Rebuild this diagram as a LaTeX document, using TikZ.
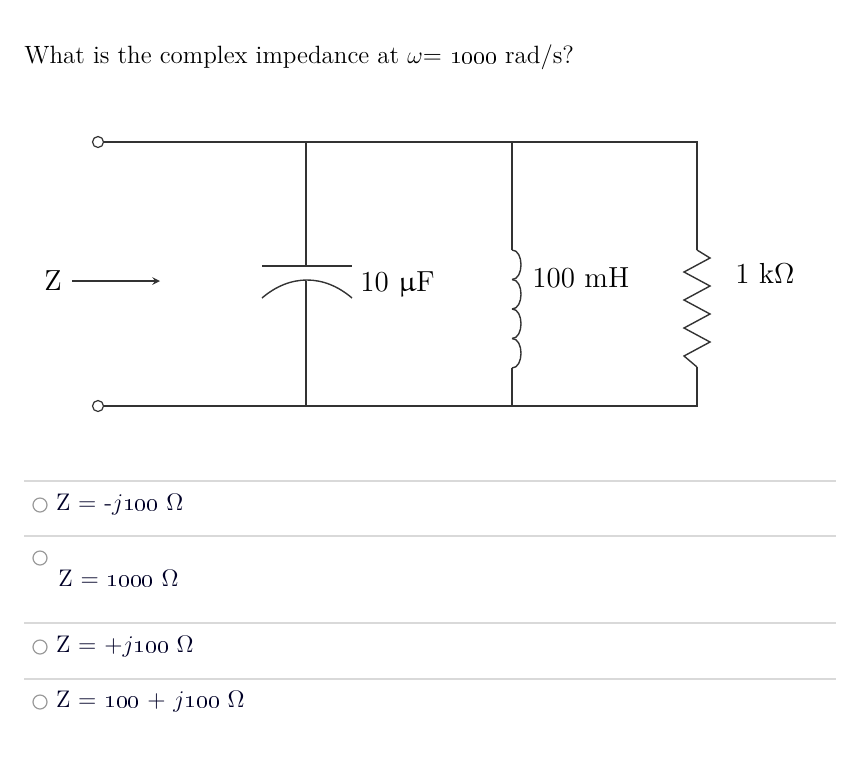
\documentclass[tikz,border=0pt]{standalone}
\usepackage{tikz}
\usetikzlibrary{positioning}
\usepackage{xcolor}
\usepackage{upgreek}

\tikzset{
  wire/.style={line width=0.7pt, black!80},
  term/.style={circle, draw=black!80, line width=0.6pt, fill=white, minimum size=5.5pt, inner sep=0pt},
  lbl/.style={font=\fontsize{14.5}{16}\selectfont, inner sep=0pt},
  sep/.style={gray!30, line width=0.6pt},
  radio/.style={circle, draw=gray!80, line width=0.6pt, minimum size=7pt, inner sep=0pt},
  answer/.style={font=\fontsize{12}{14}\selectfont, anchor=west, inner sep=0pt, text=black!85!blue}
}

\begin{document}
\begin{tikzpicture}[x=0.5pt, y=-0.5pt]
\useasboundingbox (0,0) rectangle (862,757);

% question
\node[anchor=west, inner sep=0pt, font=\fontsize{12.5}{15}\selectfont] (q) at (24,57)
{What is the complex impedance at $\omega$= \oldstylenums{1000} rad/s?};

% circuit
{
\node[term] (tA) at (98,142) {};
\node[term] (tB) at (98,406) {};
\coordinate (cT) at (306,142);
\coordinate (cB) at (306,406);
\coordinate (lT) at (512,142);
\coordinate (lB) at (512,406);
\coordinate (rT) at (697,142);
\coordinate (rB) at (697,406);

\draw[wire] (tA) -- (rT) -- (697,250);
\draw[wire] (697,367) -- (rB) -- (tB);
\draw[wire] (cT) -- (306,266);
\draw[wire] (306,281) -- (cB);
\draw[wire] (lT) -- (512,250);
\draw[wire] (512,368) -- (lB);

% capacitor
\draw[wire] (262,266) -- (352,266);
\draw[wire] (262,298) .. controls (290,274) and (324,274) .. (352,298);

% inductor
\foreach \k in {0,1,2,3}
  \draw[wire] (512,{250+\k*29.5}) .. controls (524,{250+\k*29.5}) and (524,{279.5+\k*29.5}) .. (512,{279.5+\k*29.5});

% resistor
\draw[wire] (697,250) -- (710,258) -- (684,272) -- (710,286) -- (684,300)
  -- (710,314) -- (684,328) -- (710,342) -- (684,356) -- (697,367);
}

\node[lbl, anchor=west] (capL) at (360,284) {10 $\upmu$F};
\node[lbl, anchor=west] (indL) at (532,278) {100 mH};
\node[lbl, anchor=west] (resL) at (735,273) {1 k$\Omega$};

\node[lbl, anchor=west] (zL) at (44,281) {Z};
\coordinate (zEnd) at (160,281);
\draw[wire, ->, >=stealth] (zL.east) ++(10,0) -- (zEnd);

% answers
\foreach \y in {481,536,623,679}
  \draw[sep] (24,\y) -- (836,\y);

\node[radio] (o1) at (40,505) {};
\node[answer, right=4pt of o1] (a1) {Z = -$j$\oldstylenums{100} $\Omega$};
\node[radio] (o2) at (40,558) {};
\node[answer] (a2) at (58,578) {Z = \oldstylenums{1000} $\Omega$};
\node[radio] (o3) at (40,647) {};
\node[answer, right=4pt of o3] (a3) {Z = +$j$\oldstylenums{100} $\Omega$};
\node[radio] (o4) at (40,702) {};
\node[answer, right=4pt of o4] (a4) {Z = \oldstylenums{100} + $j$\oldstylenums{100} $\Omega$};

\end{tikzpicture}
\end{document}
